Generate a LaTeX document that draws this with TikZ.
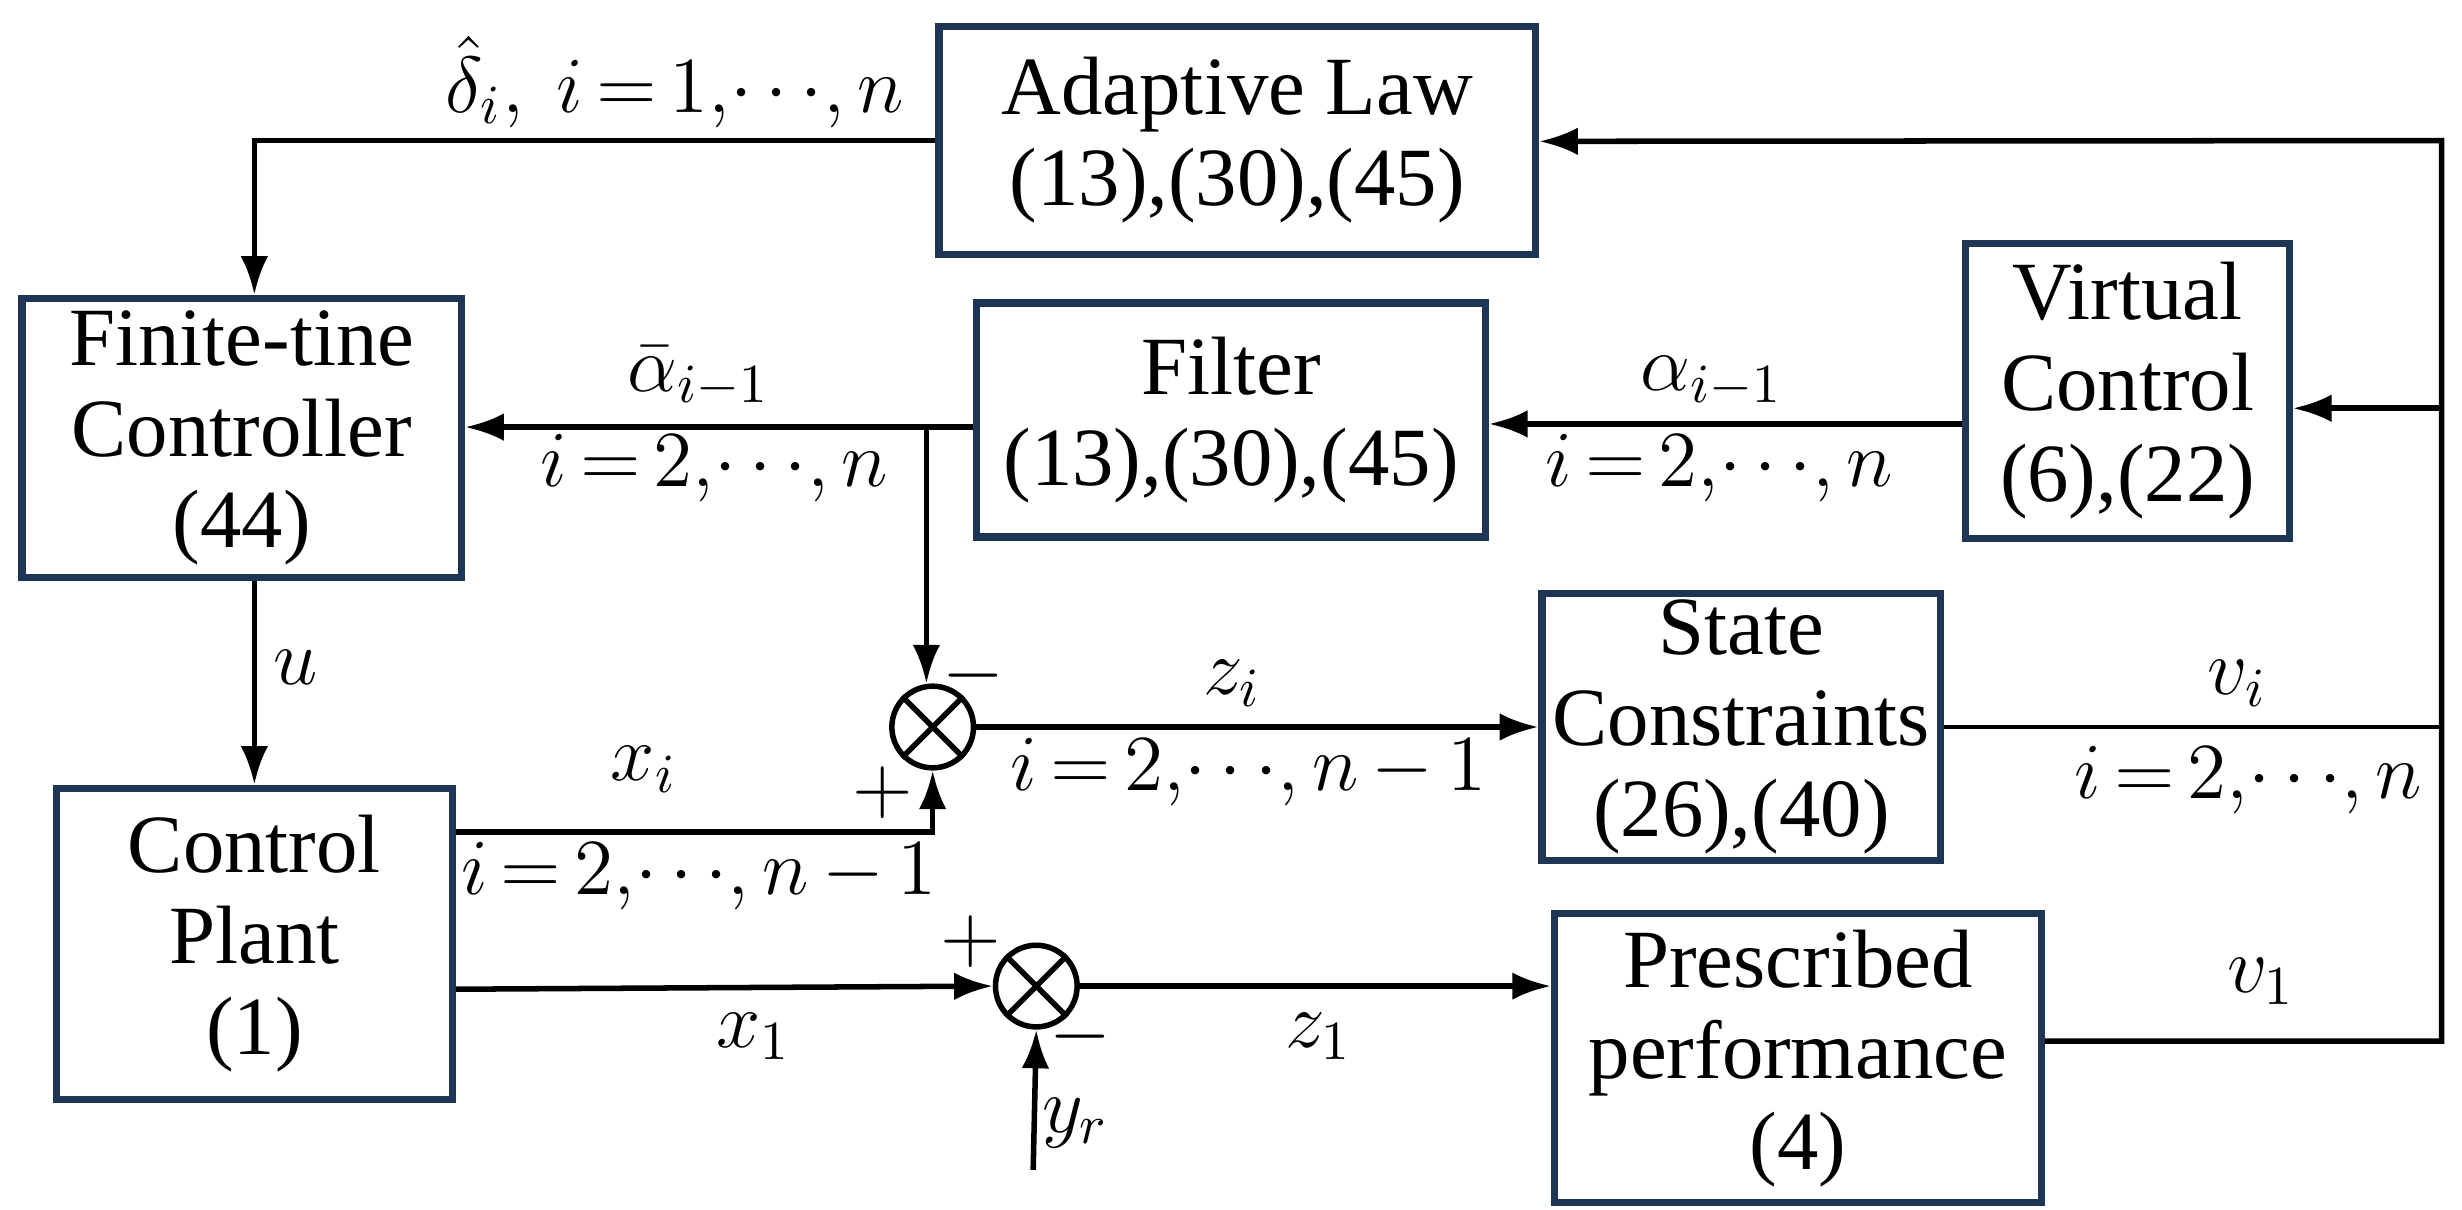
\documentclass[tikz,border=0pt]{standalone}
\usepackage{fontspec}
\setmainfont{Liberation Serif}
\usetikzlibrary{arrows.meta}
\definecolor{navy}{HTML}{1F3556}
\tikzset{
 blk/.style={draw=navy,line width=1.3pt,align=center,inner sep=0pt,font=\fontsize{15}{16.5}\selectfont},
 sumj/.style={draw,line width=1pt,circle,minimum size=0.52cm,inner sep=0pt},
 con/.style={line width=1pt,-{Latex[length=7pt,width=5pt]}},
 pl/.style={line width=1pt},
 lab/.style={font=\fontsize{14}{15}\selectfont,inner sep=1pt}
}
\newcommand{\rng}[1]{i\,{=}\,#1,\!\cdots\!,n}
\begin{document}
\begin{tikzpicture}[x=1cm,y=1cm]
\useasboundingbox (0,0) rectangle (15.68,-7.70);
\node[blk,minimum width=3.8cm,minimum height=1.45cm] (adapt) at (7.88,-0.895) {Adaptive Law\\(13),(30),(45)};
\node[blk,minimum width=2.8cm,minimum height=1.78cm] (ctrl) at (1.54,-2.79) {Finite-tine\\Controller\\(44)};
\node[blk,minimum width=3.24cm,minimum height=1.49cm] (filt) at (7.84,-2.675) {Filter\\(13),(30),(45)};
\node[blk,minimum width=2.06cm,minimum height=1.88cm] (virt) at (13.55,-2.49) {Virtual\\Control\\(6),(22)};
\node[blk,minimum width=2.54cm,minimum height=1.70cm] (state) at (11.09,-4.63) {State\\Constraints\\(26),(40)};
\node[blk,minimum width=2.52cm,minimum height=1.98cm] (plant) at (1.62,-6.01) {Control\\Plant\\(1)};
\node[blk,minimum width=3.10cm,minimum height=1.84cm] (pres) at (11.45,-6.74) {Prescribed\\performance\\(4)};
\node[sumj] (s1) at (5.94,-4.63) {};
\draw[line width=1pt] (s1.45)--(s1.225) (s1.135)--(s1.315);
\node[sumj] (s2) at (6.60,-6.28) {};
\draw[line width=1pt] (s2.45)--(s2.225) (s2.135)--(s2.315);
\coordinate (R) at (15.55,0);
\coordinate (yr) at (6.58,-7.45);
\coordinate (cx) at (1.62,0);
% adaptive law to controller
\draw[con] (adapt.west) -| (cx |- ctrl.north);
% right bus
\draw[con] (pres.east |- 0,-6.63) -| (R |- adapt.west) -- (adapt.east |- 0,-0.9);
\draw[con] (R |- 0,-2.6) -- (virt.east |- 0,-2.6);
\draw[pl,line width=0.6pt] (state.east) -- (R |- state.east);
% virtual to filter
\draw[con] (virt.west |- 0,-2.70) -- (filt.east |- 0,-2.70);
% filter to controller
\draw[con] (filt.west |- 0,-2.72) -- (ctrl.east |- 0,-2.72);
\coordinate (br) at (5.90,-2.72);
\draw[con] (br) -- (br |- s1.north);
% controller to plant
\draw[con] (cx |- ctrl.south) -- (plant.north);
% plant outputs
\draw[con] (plant.east |- 0,-5.30) -| (s1.south);
\draw[con] (plant.east |- 0,-6.30) -- (s2.west);
\draw[con] (s1.east) -- (state.west);
\draw[con] (s2.east) -- (pres.west |- s2.east);
\draw[con] (yr) -- (s2.south);
% labels
\node[lab] at (4.30,-0.52) {$\hat{\delta}_i,\ \rng{1}$};
\node[lab] at (4.45,-2.40) {$\bar{\alpha}_{i-1}$};
\node[lab] at (4.55,-2.98) {$\rng{2}$};
\node[lab] at (10.90,-2.43) {$\alpha_{i-1}$};
\node[lab] at (10.95,-2.98) {$\rng{2}$};
\node[lab] at (1.88,-4.25) {$u$};
\node[lab] at (4.10,-4.90) {$x_i$};
\node[lab] at (4.45,-5.58) {$i\,{=}\,2,\!\cdots\!,n\,{-}\,1$};
\node[lab] at (7.85,-4.35) {$z_i$};
\node[lab] at (7.95,-4.92) {$i\,{=}\,2,\!\cdots\!,n\,{-}\,1$};
\node[lab] at (14.25,-4.35) {$v_i$};
\node[lab] at (14.32,-4.97) {$\rng{2}$};
\node[lab] at (4.80,-6.60) {$x_1$};
\node[lab] at (8.40,-6.60) {$z_1$};
\node[lab] at (14.40,-6.25) {$v_1$};
\node[lab] at (6.85,-7.15) {$y_r$};
\node[lab] at (6.20,-4.30) {$-$};
\node[lab] at (5.62,-5.05) {$+$};
\node[lab] at (6.18,-6.00) {$+$};
\node[lab] at (6.88,-6.60) {$-$};
\end{tikzpicture}
\end{document}
